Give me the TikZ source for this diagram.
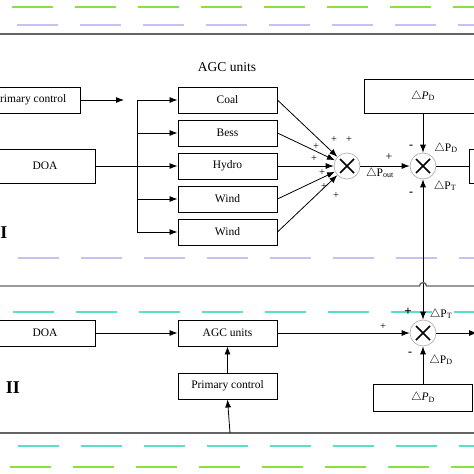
\documentclass[tikz,border=0pt]{standalone}
\usepackage{fontspec}
\setmainfont{Liberation Serif}
\usepackage{tikz}
\usetikzlibrary{arrows.meta}

\definecolor{lanegreen}{RGB}{140,222,70}
\definecolor{lanepurple}{RGB}{200,192,240}
\definecolor{lanecyan}{RGB}{90,222,200}
\definecolor{bordergray}{RGB}{100,100,100}

\begin{document}
\begin{tikzpicture}[
        x=1pt,y=-1pt,
        >={Latex[length=8pt,width=6pt]},
        every node/.style={font=\fontsize{11.5}{13}\selectfont},
        unit/.style={draw,line width=0.9pt,fill=white,minimum width=99pt,minimum height=26pt,inner sep=0pt},
        tallbox/.style={draw,line width=0.9pt,fill=white,minimum height=34pt,inner sep=0pt},
        sumnode/.style={circle,draw=gray!60,line width=0.7pt,minimum size=26pt,inner sep=0pt,
            path picture={\draw[black,line width=1.5pt]
                ([shift={(-7pt,-7pt)}]path picture bounding box.center) -- ([shift={(7pt,7pt)}]path picture bounding box.center)
                ([shift={(-7pt,7pt)}]path picture bounding box.center) -- ([shift={(7pt,-7pt)}]path picture bounding box.center);}},
        sign/.style={font=\fontsize{10.5}{12}\selectfont,inner sep=0pt},
        lane/.style={line width=2.4pt,dash pattern=on 41pt off 22pt},
        border/.style={draw=bordergray,line width=1.4pt},
        wire/.style={line width=0.8pt},
        area/.style={font=\fontsize{18}{20}\selectfont\bfseries,inner sep=0pt}
    ]
    \clip (0,0) rectangle (474,474);

    \draw[lane,lanegreen] (11.5,7) -- (480,7);
    \draw[lane,lanepurple] (17,25) -- (480,25);
    \draw[border] (0,34) -- (474,34);
    \draw[lane,lanepurple] (18,258) -- (480,258);
    \draw[lane,lanecyan] (13,312) -- (480,312);
    \draw[border] (0,433) -- (474,433);
    \draw[lane,lanecyan] (18,446) -- (480,446);
    \draw[lane,lanegreen] (10,467) -- (480,467);

    % area I
    \node (agctitle) at (227,67) {\fontsize{13.5}{15}\selectfont AGC units};
    \node[unit] (coal) at (227.5,100) {Coal};
    \node[unit] (bess) at (227.5,133) {Bess};
    \node[unit] (hydro) at (227.5,166) {Hydro};
    \node[unit] (windA) at (227.5,199) {Wind};
    \node[unit] (windB) at (227.5,232) {Wind};

    \node[unit,minimum width=100pt] (prim1) at (30,100) {Primary control};
    \coordinate (primend) at (124,100);
    \draw[wire,->] (prim1) -- (primend);

    \node[tallbox,minimum width=100pt] (doa1) at (45,166) {DOA};
    \coordinate (bus) at (137,166);
    \draw[wire] (doa1) -- (bus);
    \draw[wire] (bus |- coal) -- (bus |- windB);
    \foreach \u in {coal,bess,hydro,windA,windB}
        \draw[wire,->] (bus |- \u) -- (\u.west);

    \node[sumnode] (s1) at (347,166) {};
    \foreach \u in {coal,bess,hydro,windA,windB}
        \draw[wire,->] (\u.east) -- (s1);
    \foreach \x/\y [count=\i] in {334/140,349/140,316/147,314/159,322/173,324/187,336/196}
        \node[sign] (plus\i) at (\x,\y) {+};

    \node[sumnode] (s2) at (423,166) {};
    \draw[wire,->] (s1) -- (s2);
    \node[sign,font=\fontsize{12}{14}\selectfont] (pout) at (389,157) {+};
    \node (dpout) at (380,173) {$\triangle$P\textsubscript{out}};

    \node[tallbox,minimum width=118pt] (pd1) at (423,96) {$\triangle$\textit{P}\textsubscript{D}};
    \draw[wire,->] (pd1) -- (s2);
    \node[sign,font=\fontsize{12}{14}\bfseries] (m1) at (411,147) {-};
    \node (dpd1) at (446,148) {$\triangle$P\textsubscript{D}};
    \node[sign,font=\fontsize{12}{14}\bfseries] (m2) at (411,194) {-};
    \node (dpt1) at (445,186) {$\triangle$P\textsubscript{T}};

    \node[tallbox,minimum width=60pt] (rbox) at (499,166) {};
    \draw[wire] (s2) -- (rbox);

    \node[area] (areaI) at (4,233) {I};

    % area II
    \node[unit,minimum width=100pt] (doa2) at (45,333) {DOA};
    \node[unit] (agc2) at (227.5,333) {AGC units};
    \node[unit] (prim2) at (227.5,386) {Primary control};
    \coordinate (feed) at (230,433);
    \draw[wire,->] (doa2) -- (agc2);
    \draw[wire,->] (prim2) -- (agc2);
    \draw[wire,->] (feed) -- (prim2.south);

    \node[sumnode] (s3) at (423,333) {};
    \coordinate (out) at (477,333);
    \draw[wire,->] (agc2) -- (s3);
    \draw[wire,->] (s3) -- (out);
    \node[sign] (plus8) at (383,327) {+};
    \node[sign,font=\fontsize{13}{14}\bfseries] (plus9) at (408,312) {+};
    \node (dpt2) at (441,314) {$\triangle$P\textsubscript{T}};
    \node[sign,font=\fontsize{12}{14}\bfseries] (m3) at (410,354) {-};
    \node (dpd2) at (441,360) {$\triangle$P\textsubscript{D}};

    \node[unit,minimum width=99pt,minimum height=27pt] (pd2) at (423,397.5) {$\triangle$\textit{P}\textsubscript{D}};
    \draw[wire,->] (pd2) -- (s3);

    \node[area] (areaII) at (13,388) {II};

    % tie line between the areas
    \draw[wire,<->] (s2) -- (s3);
    \draw[border] (0,286) -- (419.5,286) .. controls (419.5,281.5) and (426.5,281.5) .. (426.5,286) -- (474,286);

\end{tikzpicture}
\end{document}
